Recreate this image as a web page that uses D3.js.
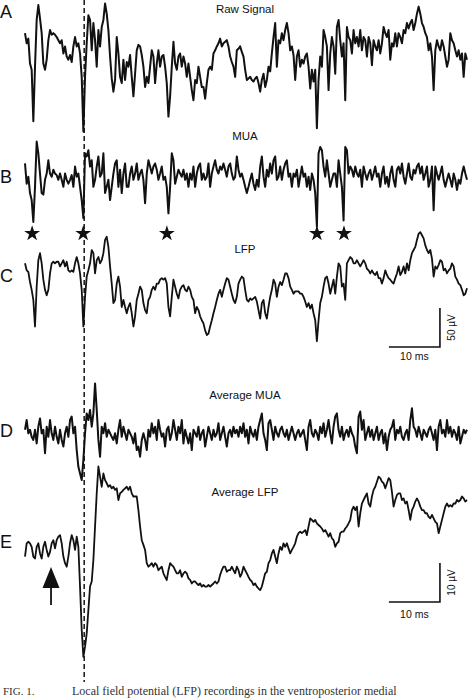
<!DOCTYPE html>
<html><head><meta charset="utf-8">
<script src="https://cdn.jsdelivr.net/npm/d3@7"></script>
<style>html,body{margin:0;padding:0;background:#fff;} svg{display:block;}</style>
</head><body>
<svg id="chart" width="474" height="699"></svg>
<script>
// ---- data (sample interval in ms; traces in µV, averages in 0.1 µV) ----
const dtMs = 0.3268;
const rawSignal = [
43,30,36,4,-4,-70,0,60,79,62,
43,4,-4,9,34,47,41,43,41,38,
34,30,34,17,26,13,9,15,6,26,
38,26,30,17,-13,-83,-13,30,66,60,
21,56,34,0,47,26,51,60,81,68,
47,13,-15,-32,-17,38,17,-13,-21,9,
-17,6,0,15,-13,-38,-9,21,28,26,
15,0,-26,-13,-21,0,21,13,-21,4,
21,0,13,15,0,-21,-64,-38,0,32,
4,-4,13,17,0,13,4,-13,4,-13,
-30,-43,-17,-21,0,-13,-26,-26,-41,-21,
-4,0,-4,17,21,26,30,36,26,30,
32,34,26,13,6,0,-13,
21,23,26,19,13,-4,-17,-15,-13,-17,
-19,-15,-13,-21,-32,-17,-9,-26,-17,0,
-6,17,38,56,0,34,30,43,34,47,
56,43,21,26,15,-17,13,21,0,9,
4,13,17,0,-28,-4,-19,-4,-79,-17,
13,0,47,38,26,-30,17,38,26,-9,
51,60,34,13,30,-43,51,38,34,17,
47,30,38,26,47,21,38,34,13,38,
30,2,34,26,21,34,17,30,51,43,
38,47,9,30,26,43,26,43,38,30,
47,43,56,49,56,60,47,56,68,77,
68,56,51,43,38,21,30,13,-30,21,
34,26,21,34,26,13,0,9,43,34,
30,21,13,21,9,17,-13,17,9];
const mua = [
17,-9,0,-21,-30,-58,-13,45,30,4,
-21,-23,-4,4,21,4,0,9,4,2,
-4,4,-4,-13,4,-4,-9,-4,2,-13,
13,0,4,-13,-30,-53,30,26,34,13,
21,-13,-4,13,26,0,4,30,-21,-13,
-4,-30,-13,4,17,21,-13,9,-21,4,
17,-13,-13,4,13,-4,4,17,-4,4,
9,-4,-34,4,21,13,4,13,17,9,
-4,4,13,-4,0,-13,-47,-13,30,21,
-9,0,9,4,0,9,-4,4,-13,4,
-4,13,-13,4,13,17,-4,4,-4,0,
17,-13,4,13,21,9,4,13,9,17,
9,0,13,17,4,-4,0,
26,9,0,4,-4,-13,-21,-13,-4,4,
-9,-17,-4,-13,13,26,0,-13,9,0,
17,4,21,26,-4,0,13,-4,9,17,
21,0,4,-13,4,0,9,-13,0,13,
0,4,-13,0,-17,4,-4,-21,-64,30,
38,34,13,0,21,4,-13,-4,4,4,
-13,21,4,-13,-56,38,34,4,13,9,
0,13,4,0,9,-13,13,4,-4,4,
9,-4,4,13,0,4,-13,4,13,-9,
0,-13,4,13,-4,-13,9,13,4,17,
0,-9,4,17,0,-4,9,4,13,17,
4,13,-4,4,13,-13,-4,13,-43,13,
4,-4,4,13,-4,-13,-4,4,-4,-13,
4,-4,-17,-4,-9,4,13,4,-4];
const lfp = [
30,21,19,6,-4,-17,-51,0,34,43,
30,9,-4,-11,-4,17,30,32,30,32,
32,26,30,34,26,32,21,19,21,19,
30,38,30,17,-4,-51,-13,13,21,30,
47,43,17,34,38,30,34,43,60,64,
51,26,4,-21,-17,4,13,0,-26,-17,
-26,-34,-26,-21,-34,-51,-38,-17,-9,0,
-4,-21,-30,-34,-17,-13,-4,0,-4,4,
4,9,11,9,11,4,-26,-38,-13,9,
0,-9,-15,-4,0,2,-4,-6,0,-4,
-13,-17,-34,-26,-30,-38,-43,-47,-56,-62,
-60,-51,-43,-34,-26,-17,-9,-4,-13,-4,
4,11,9,0,-9,-17,-21,
-13,4,9,13,11,-4,-17,-19,-15,-17,
-15,-13,-19,-30,-41,-21,-17,-34,-41,-26,
-13,-4,9,4,-13,0,6,2,9,17,
17,11,0,-4,-9,-6,-6,-6,-9,-9,
-13,-19,-26,-21,-28,-23,-34,-43,-70,-43,
-21,-13,0,11,13,4,-9,0,9,-9,
13,30,26,0,4,-17,30,34,38,36,
30,30,34,30,26,30,34,30,23,21,
17,21,17,15,19,11,11,4,11,21,
15,11,9,6,4,11,17,26,15,19,
26,17,30,21,34,43,47,51,60,68,
70,66,62,53,47,43,47,36,13,26,
23,28,34,32,21,23,17,21,23,30,
26,13,9,4,2,-4,-11,-9,-2];
const avgMua = [
9,34,0,9,-9,-17,9,-26,17,38,
0,9,-51,17,-9,34,0,-17,17,-9,
-26,9,-17,-34,0,17,-9,34,43,0,
17,-43,-86,-103,-120,-68,0,51,34,60,
17,51,128,60,-17,-60,17,0,26,-9,
9,0,-9,-17,0,-26,9,34,-9,17,
0,-17,9,0,-9,-26,0,-43,-34,-60,
-17,0,-17,-43,9,-9,26,0,17,-17,
34,9,-9,0,-34,9,17,-17,0,34,
9,-17,17,0,34,-26,9,-9,-26,0,
-43,9,0,-9,17,-17,0,9,-34,-9,
17,0,-17,9,-9,0,26,-17,0,17,
-9,-34,0,9,-9,17,0,
9,-9,17,0,26,-9,9,-26,17,0,
-9,9,-17,17,34,51,0,-17,-43,26,
34,9,-17,17,0,-9,9,17,0,-9,
9,-17,0,17,0,-17,0,9,-9,0,
9,-17,-43,17,34,0,-9,9,0,-17,
17,0,26,-9,9,34,0,-26,17,43,
51,9,-9,17,-17,0,9,-9,17,0,
-9,-34,-51,43,56,9,34,-17,0,17,
-9,9,-17,0,17,-17,0,9,-26,0,
-43,-9,9,17,34,-17,9,0,17,-9,
-17,0,9,-17,34,64,17,9,-9,17,
0,-17,9,0,-9,9,17,0,-17,9,
-43,17,34,0,9,-9,34,0,17,-9,
9,0,-17,17,-26,-9,9,0,9];
const avgLfp = [
26,60,64,60,51,26,21,51,60,34,
21,51,64,43,26,38,60,68,47,68,
77,81,60,26,9,0,26,60,81,68,
43,77,51,-51,-162,-231,-205,-171,-111,-51,
-38,17,103,188,257,231,205,239,222,214,
205,209,201,205,197,201,171,188,192,197,
201,205,197,205,188,180,180,180,145,103,
68,56,43,9,0,4,9,0,9,4,
-9,-4,0,-17,-26,-34,-9,9,4,0,
-9,-17,-17,-9,-26,-17,-13,-17,-30,-34,
-43,-38,-38,-43,-47,-43,-51,-47,-51,-51,
-47,-51,-47,-43,-38,-43,-38,-21,-9,0,
0,-13,-9,-9,0,-9,-17,
0,-9,-26,-17,0,-9,-17,-26,-34,-38,
-47,-43,-51,-56,-60,-51,-34,-17,-13,9,
17,34,43,26,9,34,51,43,60,51,
60,47,34,43,51,60,77,86,90,86,
90,94,81,103,124,120,115,120,111,107,
103,98,90,94,86,77,86,73,68,51,
60,64,86,90,90,98,103,111,120,145,
154,145,154,103,137,162,171,180,188,162,
154,180,197,205,218,231,227,218,214,201,
214,227,222,192,154,171,184,188,188,171,
175,162,167,145,120,145,154,167,175,167,
154,145,145,137,137,128,124,133,124,115,
111,86,103,120,137,154,162,154,158,154,
162,162,171,167,171,180,175,167,171];
const starTimesMs = [1.4, 11.4, 27.8, 57.2, 62.5];
const eventTimeMs = 11.6;
const arrowTimeMs = 5.1;
const panelLetters = ["A","B","C","D","E"];
const panelTitles = ["Raw Signal","MUA","LFP","Average MUA","Average LFP"];
const scaleBarMs = 10;
const scaleBarStartMs = 71.3;
const scaleBarUV = [50, 10];
const captionLead = "FIG. 1.";
const captionText = "Local field potential (LFP) recordings in the ventroposterior medial";

// ---- layout ----
const svg = d3.select("#chart");
const n = rawSignal.length;
const x = d3.scaleLinear().domain([0, (n - 1) * dtMs]).range([25, 467]);
const barPx = 39;
const panels = [
  {data: rawSignal, base: 66.7, uv: 50, div: 1, letterY: 18, titleY: 13, sw: 2.0},
  {data: mua,       base: 176.7, uv: 50, div: 1, letterY: 183, titleY: 140, sw: 2.0},
  {data: lfp,       base: 286.7, uv: 50, div: 1, letterY: 282, titleY: 253, sw: 1.8},
  {data: avgMua,    base: 433.3, uv: 10, div: 10, letterY: 437, titleY: 399, sw: 2.0},
  {data: avgLfp,    base: 566.7, uv: 10, div: 10, letterY: 548, titleY: 496, sw: 1.8}
];
panels.forEach(p => {
  p.y = d3.scaleLinear().domain([-p.uv / 2, p.uv / 2]).range([p.base + barPx / 2, p.base - barPx / 2]);
});

const ink = "#111";
const sans = "Liberation Sans, Arial, Helvetica, sans-serif";

// dashed event line
svg.append("line")
  .attr("x1", x(eventTimeMs)).attr("x2", x(eventTimeMs))
  .attr("y1", 0).attr("y2", 682)
  .attr("stroke", "#222").attr("stroke-width", 1.6)
  .attr("stroke-dasharray", "5,3");

// traces
panels.forEach((p, k) => {
  const line = d3.line()
    .x((d, i) => x(i * dtMs))
    .y(d => p.y(d / p.div));
  svg.append("path")
    .datum(p.data)
    .attr("d", line)
    .attr("fill", "none")
    .attr("stroke", ink)
    .attr("stroke-width", p.sw)
    .attr("stroke-linejoin", "round");
  svg.append("text")
    .attr("x", 0).attr("y", p.letterY)
    .attr("font-family", sans).attr("font-size", 18)
    .attr("fill", ink)
    .text(panelLetters[k]);
  svg.append("text")
    .attr("x", 245).attr("y", p.titleY)
    .attr("text-anchor", "middle")
    .attr("font-family", sans).attr("font-size", 11.5)
    .attr("fill", ink)
    .text(panelTitles[k]);
});

// stars
const starSym = d3.symbol().type(d3.symbolStar).size(78);
svg.selectAll(".star").data(starTimesMs).enter().append("path")
  .attr("class", "star")
  .attr("d", starSym)
  .attr("transform", d => `translate(${x(d)},233.5)`)
  .attr("fill", ink);

// scale bars
function scaleBar(panel, bottomUV, uv, msLabelDy) {
  const x0 = x(scaleBarStartMs), x1 = x(scaleBarStartMs + scaleBarMs);
  const yb = panel.y(bottomUV), yt = panel.y(bottomUV + uv);
  const g = svg.append("g");
  g.append("path")
    .attr("d", `M${x0},${yb}H${x1}V${yt}`)
    .attr("fill", "none").attr("stroke", ink).attr("stroke-width", 1.6);
  g.append("text")
    .attr("x", (x0 + x1) / 2).attr("y", yb + msLabelDy)
    .attr("text-anchor", "middle")
    .attr("font-family", sans).attr("font-size", 10.5).attr("fill", ink)
    .text(scaleBarMs + " ms");
  g.append("text")
    .attr("transform", `translate(${x1 + 15},${(yb + yt) / 2}) rotate(-90)`)
    .attr("text-anchor", "middle")
    .attr("font-family", sans).attr("font-size", 10).attr("fill", ink)
    .text(uv + " \u00B5V");
}
scaleBar(panels[2], -77.3, scaleBarUV[0], 13);
scaleBar(panels[4], -9.05, scaleBarUV[1], 16);

// arrow
const ax = x(arrowTimeMs);
svg.append("line")
  .attr("x1", ax).attr("x2", ax).attr("y1", 605).attr("y2", 584)
  .attr("stroke", ink).attr("stroke-width", 1.8);
svg.append("path")
  .attr("d", `M${ax},567L${ax + 8.5},588L${ax - 8.5},588Z`)
  .attr("fill", ink);

// caption at the bottom edge
svg.append("text")
  .attr("x", 3).attr("y", 695)
  .attr("font-family", "Liberation Serif, Times New Roman, serif")
  .attr("font-size", 11).attr("fill", "#333")
  .text(captionLead);
svg.append("text")
  .attr("x", 72).attr("y", 695)
  .attr("font-family", "Liberation Serif, Times New Roman, serif")
  .attr("font-size", 12).attr("fill", "#333")
  .text(captionText);
</script>
</body></html>
